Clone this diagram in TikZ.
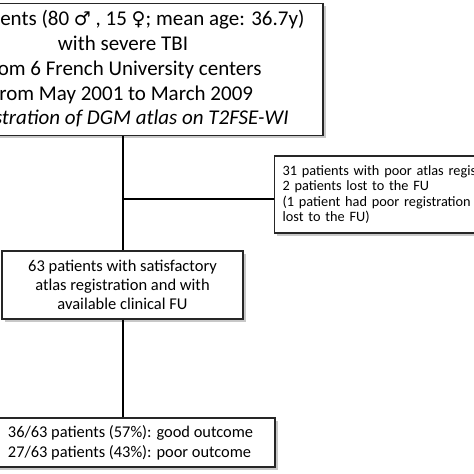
\documentclass[tikz,border=0pt]{standalone}
\usepackage{fontspec}
\setmainfont{Carlito}
\newfontfamily\symfont{DejaVu Sans}
\usetikzlibrary{shadows}
\tikzset{
  box/.style={draw=black!85, line width=1.2pt, fill=white, inner sep=0pt,
    drop shadow={shadow xshift=2.5pt, shadow yshift=-2.5pt, opacity=0.3, fill=black!70}},
  link/.style={line width=1.5pt}
}
\begin{document}
\begin{tikzpicture}[x=1pt,y=-1pt]
\clip (0,0) rectangle (474,474);
\fill[white] (0,0) rectangle (474,474);
\node[box, minimum width=400pt, minimum height=132pt, align=center,
  font=\fontsize{21}{24.75}\selectfont] (cohort) at (123,69.5)
  {95 patients (80 {\symfont\fontsize{19}{24}\selectfont ♂} , 15 {\symfont\fontsize{19}{24}\selectfont ♀}; mean age: 36.7y)\\
   with severe TBI\\
   from 6 French University centers\\
   from May 2001 to March 2009\\
   \textit{Registration of DGM atlas on T2FSE-WI}};
\node[box, anchor=west, minimum height=77pt, text width=260pt, inner xsep=8pt, align=left,
  font=\fontsize{14.3}{15.2}\selectfont] (lost) at (274,194.5)
  {31 patients with poor atlas registration\\
   2 patients lost to the FU\\
   (1 patient had poor registration and\\
   lost to the FU)};
\node[box, minimum width=241pt, minimum height=68pt, align=center,
  font=\fontsize{16.5}{19}\selectfont] (selected) at (122.5,285)
  {63 patients with satisfactory\\
   atlas registration and with\\
   available clinical FU};
\node[box, minimum width=289pt, minimum height=49pt, align=left,
  font=\fontsize{16.4}{20}\selectfont] (outcome) at (130.5,442.5)
  {36/63 patients (57\%): good outcome\\
   27/63 patients (43\%): poor outcome};
\coordinate (split) at (123,199);
\draw[link] (cohort.south) -- (cohort.south |- selected.north);
\draw[link] (split) -- (split -| lost.west);
\draw[link] (selected.south -| cohort.south) -- (cohort.south |- outcome.north);
\end{tikzpicture}
\end{document}
